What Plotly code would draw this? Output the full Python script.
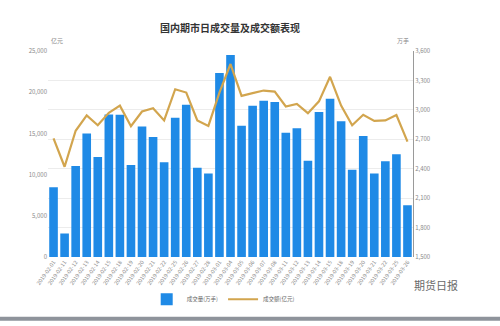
import plotly.graph_objects as go

dates = ["2019-02-01", "2019-02-11", "2019-02-12", "2019-02-13", "2019-02-14", "2019-02-15",
         "2019-02-18", "2019-02-19", "2019-02-20", "2019-02-21", "2019-02-22", "2019-02-25",
         "2019-02-26", "2019-02-27", "2019-02-28", "2019-03-01", "2019-03-04", "2019-03-05",
         "2019-03-06", "2019-03-07", "2019-03-08", "2019-03-11", "2019-03-12", "2019-03-13",
         "2019-03-14", "2019-03-15", "2019-03-18", "2019-03-19", "2019-03-20", "2019-03-21",
         "2019-03-22", "2019-03-25", "2019-03-26"]

volume_wanshou = [2210, 1740, 2427, 2760, 2520, 2953, 2950, 2437, 2830, 2723, 2467,
                  2920, 3053, 2410, 2350, 3377, 3560, 2837, 3043, 3093, 3080, 2767,
                  2813, 2480, 2977, 3113, 2883, 2390, 2733, 2350, 2477, 2547, 2027]

turnover_yiyuan = [14400, 10950, 15320, 17180, 15990, 17500, 18370, 15870, 17650, 18060, 16580,
                   20360, 19960, 16580, 15910, 19960, 23420, 19560, 19880, 20200, 20080, 18270,
                   18570, 17460, 18890, 21870, 18370, 15990, 17260, 16510, 16580, 17220, 14010]

left_ticks = [0, 5000, 10000, 15000, 20000, 25000]
right_ticks = [1500, 1800, 2100, 2400, 2700, 3000, 3300, 3600]

cjk = "Noto Sans CJK SC"
tick_color = "#8a8a8a"

fig = go.Figure()
fig.add_trace(go.Bar(
    x=dates, y=volume_wanshou, name="成交量(万手)", yaxis="y",
    marker=dict(color="#1f8ae6", line=dict(width=0)),
))
fig.add_trace(go.Scatter(
    x=dates, y=turnover_yiyuan, name="成交额(亿元)", yaxis="y2", mode="lines",
    line=dict(color="#d2a54e", width=2.2),
))

fig.update_layout(
    width=500, height=326,
    margin=dict(l=48, r=87, t=51, b=65),
    paper_bgcolor="white", plot_bgcolor="white",
    bargap=0.22,
    font=dict(family=cjk, size=6, color=tick_color),
    title=dict(text="<b>国内期市日成交量及成交额表现</b>", x=0.46, xanchor="center",
               y=1 - 28 / 326, yanchor="middle",
               font=dict(family=cjk, size=10, color="#333333")),
    xaxis=dict(type="category", tickangle=-55, tickfont=dict(size=5.5, color=tick_color),
               showgrid=False, showline=False, ticks="", automargin=False),
    yaxis=dict(side="right", range=[1500, 3600], tickvals=right_ticks,
               tickformat=",", showgrid=True, gridcolor="#ececec", gridwidth=1,
               showline=True, linecolor="#9a9a9a", linewidth=1, zeroline=False,
               tickfont=dict(size=6, color=tick_color), ticks="", automargin=False),
    yaxis2=dict(side="left", overlaying="y", range=[0, 25000], tickvals=left_ticks,
                tickformat=",", showgrid=False, showline=False, zeroline=False,
                tickfont=dict(size=6, color=tick_color), ticks="", automargin=False),
    legend=dict(orientation="h", x=0.48, xanchor="center", y=-0.205, yanchor="middle",
                font=dict(family=cjk, size=5.5, color="#666666"), itemwidth=30,
                bgcolor="rgba(0,0,0,0)"),
    showlegend=True,
)

fig.add_annotation(text="亿元", xref="paper", yref="paper", x=(49 - 48) / 365, y=(261 - 40) / 210,
                   yanchor="middle", showarrow=False, font=dict(family=cjk, size=6, color=tick_color))
fig.add_annotation(text="万手", xref="paper", yref="paper", x=(411 - 48) / 365, y=(261 - 40) / 210,
                   yanchor="middle", showarrow=False, font=dict(family=cjk, size=6, color=tick_color))
fig.add_annotation(text="期货日报", xref="paper", yref="paper", x=(460 - 48) / 365, y=(261 - 300) / 210,
                   showarrow=False, font=dict(family=cjk, size=11, color="#6a6a6a"))
fig.add_shape(type="rect", xref="paper", yref="paper",
              x0=-48 / 365, x1=(500 - 48) / 365, y0=(261 - 326) / 210, y1=(261 - 322) / 210,
              fillcolor="#8e939b", line=dict(width=0), layer="above")

fig.write_html("out.html")
